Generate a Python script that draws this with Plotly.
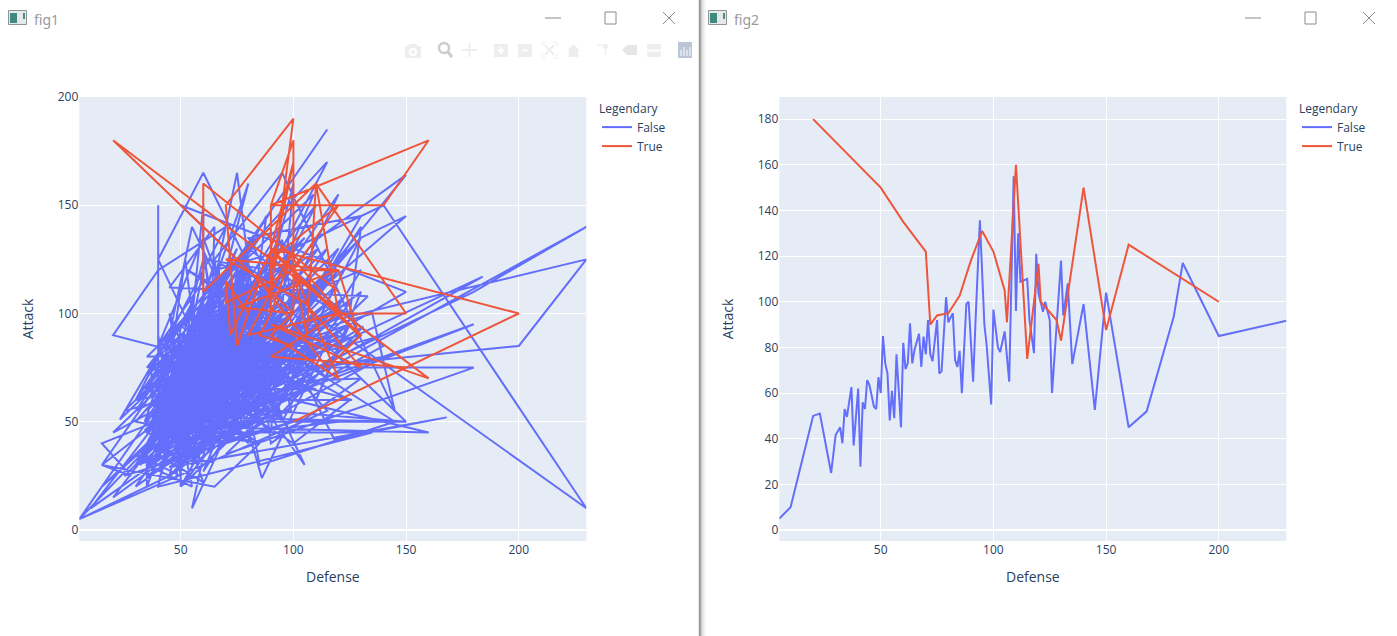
import plotly.graph_objects as go

W, H = 1397, 636

# fig1: attack against defense, in table order
fig1_false_defense = [
    49,63,83,123,43,58,78,111,78,65, 80,100,120,35,55,50,30,50,40,40,
    40,55,75,80,35,60,30,65,44,69, 40,55,85,110,52,67,87,40,57,77,
    48,73,40,75,20,45,35,70,55,70, 85,55,80,50,60,25,50,35,60,48,
    78,35,60,45,80,40,65,95,15,30, 45,65,50,70,80,35,50,65,35,65,
    100,115,130,55,70,65,110,180,70,95, 55,45,70,55,80,50,75,100,180,30,
    45,60,80,160,45,70,90,115,50,70, 80,85,95,110,53,79,75,95,120,95,
    120,5,115,80,100,70,95,60,65,55, 85,65,80,35,57,57,100,120,95,55,
    79,109,80,48,50,60,60,60,70,100, 125,90,105,65,85,65,45,65,95,100,
    65,80,100,43,58,78,64,80,100,34, 64,30,50,30,50,40,70,80,38,58,
    15,28,15,65,85,45,70,40,55,85, 105,95,50,80,115,75,40,50,70,55,
    30,55,45,45,85,60,110,42,80,60, 48,58,65,90,140,70,105,200,230,50,
    75,85,100,140,230,75,115,55,50,75, 40,120,40,80,85,35,75,45,70,140,
    30,50,90,95,60,120,90,62,35,35, 95,15,37,37,105,10,50,70,110,150, 100,
    35,45,65,75,40,60,70,80,50,70, 90,110,35,70,41,61,35,55,50,55,
    70,30,50,70,50,40,60,30,60,30, 100,25,35,65,65,32,62,60,80,60,
    80,100,90,45,45,23,43,63,30,60, 40,135,45,65,75,125,85,125,100,140,
    180,230,55,75,85,40,60,80,40,50, 55,55,45,53,83,20,40,70,35,45,
    40,70,100,140,35,65,60,45,50,80, 40,60,60,90,110,60,60,65,85,43,
    73,65,85,55,105,77,97,50,100,20, 79,70,70,35,65,75,90,130,83,70,
    60,60,48,50,80,80,50,70,90,85, 105,105,130,55,60,100,80,130,80,100,
    130,150,
    64,85,105,44,52,71,53,68,88,30, 50,70,40,60,41,51,34,49,79,35,
    65,40,60,118,168,45,85,105,95,50, 42,102,70,35,55,45,70,48,68,66,
    34,44,44,84,94,60,52,42,64,50, 47,67,86,116,95,45,5,45,108,45,
    65,95,115,40,40,70,88,78,118,90, 110,40,65,72,56,76,50,50,75,105,
    65,115,95,130,125,67,67,95,86,130, 110,125,80,70,65,95,145,135,70,77,
    107,107,107,107,107,80,100,
    100,55,75,95,45,55,65,45,60,85, 39,69,45,65,90,37,50,48,63,48,
    63,48,63,45,85,50,62,80,32,63, 85,105,130,43,55,40,60,86,126,55,
    85,95,40,55,75,85,75,70,90,80, 59,99,89,60,85,50,75,65,35,45,
    80,45,55,105,67,85,125,70,115,80, 85,145,103,133,45,65,62,82,40,60,
    40,60,50,70,95,40,50,75,50,63, 50,65,85,50,70,60,45,105,45,70,
    50,70,80,50,60,91,131,70,95,115, 40,70,80,55,75,55,60,90,60,70,
    90,40,80,30,85,40,84,50,60,90, 50,80,70,100,95,50,75,75,105,66,
    112,50,70,90,55,65, 90,77,90,95,
    65,95,122,40,58,72,40,52,67,38, 77,43,55,71,40,60,50,58,72,39,
    47,68,48,62,62,78,60,54,76,76, 100,150,50,150,60,72,66,86,53,88,
    67,115,60,90,62,88,33,52,77,119, 50,72,65,75,57,150,35,53,70,91,
    48,76,70,122,85,184,35,80,
]
fig1_false_attack = [
    49,62,82,100,52,64,84,130,104,48, 63,83,103,30,20,45,35,25,90,150,
    45,60,80,80,56,81,60,90,60,85, 55,90,75,100,47,62,92,57,72,102,
    45,70,41,76,45,70,45,80,50,65, 80,70,95,55,65,55,80,45,70,52,
    82,80,105,70,110,50,65,95,20,35, 50,50,80,100,130,75,90,105,40,70,
    80,95,120,85,100,65,75,75,35,60, 65,85,110,45,70,80,105,65,95,35,
    50,65,65,45,48,73,105,130,30,50, 40,95,50,80,120,105,55,65,90,85,
    130,5,55,95,125,40,65,67,92,45, 75,45,110,50,83,95,125,155,100,10,
    125,155,85,48,55,65,65,130,60,40, 60,80,115,105,135,110,64,84,134,100,
    49,62,82,52,64,84,65,80,105,46, 76,30,50,20,35,60,90,90,38,58,
    40,25,30,20,40,50,75,40,55,75, 95,80,20,50,100,75,35,45,55,70,
    30,75,65,45,85,65,65,85,75,60, 72,33,80,65,90,70,75,85,125,80,
    120,95,130,150,10,125,185,95,80,130, 40,50,50,100,55,65,105,55,40,80,
    60,90,90,95,60,120,80,95,20,35, 95,30,63,75,80,10,64,84,134,164, 100,
    45,65,85,110,60,85,120,160,70,85, 110,150,55,90,30,70,45,35,70,35,
    50,30,50,70,40,70,100,55,85,30, 50,25,35,65,85,30,60,40,130,60,
    80,160,45,90,90,51,71,91,60,120, 20,45,45,65,75,85,85,105,70,90,
    110,140,40,60,100,45,75,75,50,40, 73,47,60,43,73,90,120,140,70,90,
    60,100,120,85,25,45,60,100,70,100, 85,115,40,70,110,115,100,55,95,48,
    78,80,120,40,70,41,81,95,125,15, 60,70,90,75,115,165,40,70,68,50,
    130,150,23,50,80,120,40,60,80,64, 104,84,90,30,75,95,135,145,55,75,
    135,145,
    68,89,109,58,78,104,51,66,86,55, 75,120,45,85,25,85,65,85,120,30,
    70,125,165,42,52,29,59,79,69,94, 30,80,45,65,105,35,60,48,83,100,
    50,80,66,76,136,60,125,55,82,30, 63,93,24,89,80,25,5,65,92,70,
    90,130,170,85,70,110,145,72,112,50, 90,61,106,100,49,69,20,62,92,132,
    120,70,85,140,100,123,95,50,76,110, 60,95,130,80,125,165,55,100,80,50,
    65,65,65,65,65,80,100,
    100,45,60,75,63,93,123,55,75,100, 55,85,60,80,110,50,88,53,98,53,
    98,53,98,25,55,55,77,115,60,100, 75,105,135,45,57,85,135,60,60,80,
    105,140,50,65,95,100,125,53,63,103, 45,55,100,27,67,35,60,92,72,82,
    117,90,140,30,86,65,95,75,90,58, 30,50,78,108,112,140,50,95,65,105,
    50,95,30,45,55,30,40,65,44,87, 50,65,95,60,100,75,75,135,55,85,
    40,60,75,47,77,50,94,55,80,100, 55,85,115,55,75,30,40,55,87,117,
    147,70,110,50,40,70,66,85,125,120, 74,124,85,125,110,83,123,55,65,97,
    109,65,85,105,85,60, 72,77,128,120,
    61,78,107,45,59,69,56,63,95,36, 56,50,73,81,35,22,52,50,68,38,
    45,65,65,100,82,124,80,48,48,48, 80,110,150,50,52,72,48,80,54,92,
    52,105,60,75,53,73,38,55,89,121, 59,77,65,92,58,50,50,75,100,80,
    70,110,66,90,69,117,30,70,
]
fig1_true_defense = [
    100,85,90,90,100,70,75,85,115,130,90,200,100,150,90,120,80,100,90,90,
    140,160,90,100,100,50,20,160,90,130,105,70,120,100,106,110,120,100,120,90,100,
    75,120,129,90,72,70,80,70,70,100,120,90,90,90,100,90,95,95,121,150,
    110,60,60,120,
]
fig1_true_attack = [
    85,90,100,110,190,150,85,115,75,90,130,100,50,75,80,100,90,130,100,150,
    150,180,150,180,100,150,180,70,95,75,105,125,120,120,90,160,100,120,70,90,100,
    103,120,90,129,90,115,100,115,105,120,150,125,145,130,170,120,131,131,100,100,
    160,110,160,110,
]

# fig2: mean attack for each defense value
fig2_false_defense = [
    5,10,20,23,28,30,32,33,34,35,37,38,40,41,42,43,44,45,47,48,49,50,51,
    52,53,54,55,56,57,59,60,61,62,63,64,65,67,68,69,70,71,72,73,75,76,77,
    79,80,82,83,84,85,86,88,89,91,92,94,96,97,99,100,102,103,105,107,109,
    110,111,112,115,116,118,119,120,122,123,125,126,130,131,133,135,140,
    145,150,160,168,180,184,200,230,
]
fig2_false_attack = [
    5,10,50,51,25,41.6,45,38,53,49.6,62.6,37,62,27.7,56,53,65.7,63.5,54,53,67,60,85,
    73,68.6,48,61,49,77,45,82,70.5,73,90.6,73,79,86,71.5,84.7,77,92,77,74,92,68.6,69.5,
    102,91,95,74.5,71.5,78.5,60,99,100,65,90,135.7,90,81,55,96.6,80,78,87,65,155,
    96,130,108.8,110,92,77.5,121,103.7,95.6,100,92,60,118,94,108,72.7,99,
    52.6,104,45,52,93.4,117,85,91.7,
]
fig2_true_defense = [20,50,60,70,72,75,80,85,90,95,100,105,106,110,115,120,121,128,130,140,150,160,200]
fig2_true_attack = [180,150,135,122,90,94,95,102.6,118,131,122,105,91,160,75,116.6,100,92,83,150,87.6,125,100]

BLUE = "#636EFA"
RED = "#EF553B"
FONT = "Open Sans, Noto Sans, sans-serif"


def px(x):
    return x / W


def py(y):
    return 1 - y / H


def box(x0, y0, x1, y1, fill=None, line=None, lw=1, opacity=1):
    return dict(type="rect", xref="paper", yref="paper", layer="above",
                x0=px(x0), x1=px(x1), y0=py(y0), y1=py(y1), opacity=opacity,
                fillcolor=fill or "rgba(0,0,0,0)",
                line=dict(color=line or "rgba(0,0,0,0)", width=lw if line else 0))


def seg(x0, y0, x1, y1, color="#8a8a8a", lw=1):
    return dict(type="line", xref="paper", yref="paper", layer="above",
                x0=px(x0), x1=px(x1), y0=py(y0), y1=py(y1),
                line=dict(color=color, width=lw))


def poly(points, fill):
    path = "M " + " L ".join(f"{px(x):.5f},{py(y):.5f}" for x, y in points) + " Z"
    return dict(type="path", xref="paper", yref="paper", layer="above", path=path,
                fillcolor=fill, line=dict(width=0))


def disc(x0, y0, x1, y1, fill=None, line=None, lw=1):
    return dict(type="circle", xref="paper", yref="paper", layer="above",
                x0=px(x0), x1=px(x1), y0=py(y0), y1=py(y1),
                fillcolor=fill or "rgba(0,0,0,0)",
                line=dict(color=line or "rgba(0,0,0,0)", width=lw if line else 0))


fig = go.Figure()
fig.add_trace(go.Scatter(x=fig1_false_defense, y=fig1_false_attack, name="False", mode="lines",
                         line=dict(color=BLUE, width=2), xaxis="x", yaxis="y", legend="legend"))
fig.add_trace(go.Scatter(x=fig1_true_defense, y=fig1_true_attack, name="True", mode="lines",
                         line=dict(color=RED, width=2), xaxis="x", yaxis="y", legend="legend"))
fig.add_trace(go.Scatter(x=fig2_false_defense, y=fig2_false_attack, name="False", mode="lines",
                         line=dict(color=BLUE, width=2), xaxis="x2", yaxis="y2", legend="legend2"))
fig.add_trace(go.Scatter(x=fig2_true_defense, y=fig2_true_attack, name="True", mode="lines",
                         line=dict(color=RED, width=2), xaxis="x2", yaxis="y2", legend="legend2"))

axis_common = dict(gridcolor="white", zerolinecolor="white", zerolinewidth=2, automargin=False,
                   tickfont=dict(size=12, color="#2a3f5f"))
title_font = dict(size=14, color="#2a3f5f")
y_domain = [py(541), py(97)]
legend_title = dict(text="Legendary", font=dict(size=12))

fig.update_layout(
    template="plotly",
    width=W, height=H, autosize=False,
    margin=dict(l=0, r=0, t=0, b=0),
    font=dict(family=FONT, color="#2a3f5f"),
    paper_bgcolor="white",
    plot_bgcolor="#E5ECF6",
    showlegend=True,
    xaxis=dict(domain=[px(79.3), px(586.4)], range=[5, 230], tick0=0, dtick=50, anchor="y",
               title=dict(text="Defense", font=title_font, standoff=15), **axis_common),
    yaxis=dict(domain=y_domain, range=[-5.1, 200], tick0=0, dtick=50, anchor="x",
               title=dict(text="Attack", font=title_font, standoff=20), **axis_common),
    xaxis2=dict(domain=[px(779.3), px(1286.4)], range=[5, 230], tick0=0, dtick=50, anchor="y2",
                title=dict(text="Defense", font=title_font, standoff=15), **axis_common),
    yaxis2=dict(domain=y_domain, range=[-4.8, 189.7], tick0=0, dtick=20, anchor="x2",
                title=dict(text="Attack", font=title_font, standoff=20), **axis_common),
    legend=dict(x=px(597), y=py(97), xanchor="left", yanchor="top", title=legend_title,
                font=dict(size=12), bgcolor="rgba(0,0,0,0)"),
    legend2=dict(x=px(1297), y=py(97), xanchor="left", yanchor="top", title=legend_title,
                 font=dict(size=12), bgcolor="rgba(0,0,0,0)"),
)

# window chrome around the two figures
shapes = []
annotations = []
for offset, name in [(0, "fig1"), (700, "fig2")]:
    shapes += [
        box(offset + 8.5, 10.5, offset + 26.5, 24.5, fill="#e6e9e9", line="#8f9595"),
        box(offset + 10, 13, offset + 17, 23, fill="#3f8a7e"),
        box(offset + 23, 13, offset + 25, 19, fill="#4a8c86"),
    ]
    annotations.append(dict(text=name, xref="paper", yref="paper", x=px(offset + 32), y=py(19),
                            xanchor="left", yanchor="middle", showarrow=False,
                            font=dict(size=14, color="#9a9a9a", family="Noto Sans")))
    shapes += [
        seg(offset + 545, 18, offset + 561, 18),
        box(offset + 605, 12, offset + 616, 24, line="#8a8a8a"),
        seg(offset + 663, 12, offset + 675, 24),
        seg(offset + 663, 24, offset + 675, 12),
    ]

# faded plotly toolbar of the first window
ICON = "#eeeeee"
shapes += [
    box(405, 46, 421, 58, fill=ICON), box(409, 44, 417, 47, fill=ICON),
    disc(409, 48, 417, 56, fill="white"), disc(411, 50, 415, 54, fill=ICON),
    disc(439, 43, 449, 53, line="#cccccc", lw=2.5),
    seg(448, 52, 452, 57, color="#cccccc", lw=3),
    seg(462, 50, 477, 50, color=ICON, lw=2), seg(469.5, 43, 469.5, 57, color=ICON, lw=2),
    box(494, 44, 508, 57, fill=ICON),
    seg(498, 50.5, 504, 50.5, color="white", lw=2), seg(501, 47, 501, 54, color="white", lw=2),
    box(518, 44, 532, 57, fill=ICON), seg(522, 50.5, 528, 50.5, color="white", lw=2),
    seg(542, 42, 546, 42, color=ICON), seg(553, 42, 557, 42, color=ICON),
    seg(542, 58, 546, 58, color=ICON), seg(553, 58, 557, 58, color=ICON),
    seg(542, 42, 542, 46, color=ICON), seg(557, 42, 557, 46, color=ICON),
    seg(542, 54, 542, 58, color=ICON), seg(557, 54, 557, 58, color=ICON),
    seg(545, 45, 554, 55, color=ICON, lw=2), seg(554, 45, 545, 55, color=ICON, lw=2),
    poly([(567, 51), (573.5, 44), (580, 51), (578, 51), (578, 57), (569, 57), (569, 51)], ICON),
    disc(603, 44, 608, 49, fill=ICON), seg(605.5, 49, 605.5, 55, color=ICON, lw=1.5),
    seg(597, 45, 603, 45, color=ICON, lw=1.5),
    poly([(622, 50), (627, 45), (637, 45), (637, 55), (627, 55)], "#e6e6e6"),
    box(647, 44, 661, 49.5, fill=ICON), box(647, 51.5, 661, 57, fill=ICON),
    box(678, 42, 692, 58, fill="#bcc5d5"),
]
for tick_x, tick_top in [(681, 50), (684, 47), (687, 50), (690, 47)]:
    shapes.append(seg(tick_x, tick_top, tick_x, 56, color="white", lw=1))

# divider between the windows, with a soft shadow on its right
shapes.append(seg(699.5, 0, 699.5, H, color="#9a9a9a", lw=1.5))
for i, alpha in enumerate([0.28, 0.2, 0.13, 0.08, 0.05, 0.03]):
    shapes.append(box(700 + i, 0, 701 + i, H, fill=f"rgba(0,0,0,{alpha})"))

fig.update_layout(shapes=shapes, annotations=annotations)

fig.write_html("out.html", config=dict(displayModeBar=False),
               post_script="document.body.style.margin='0';document.documentElement.style.overflow='hidden';")
